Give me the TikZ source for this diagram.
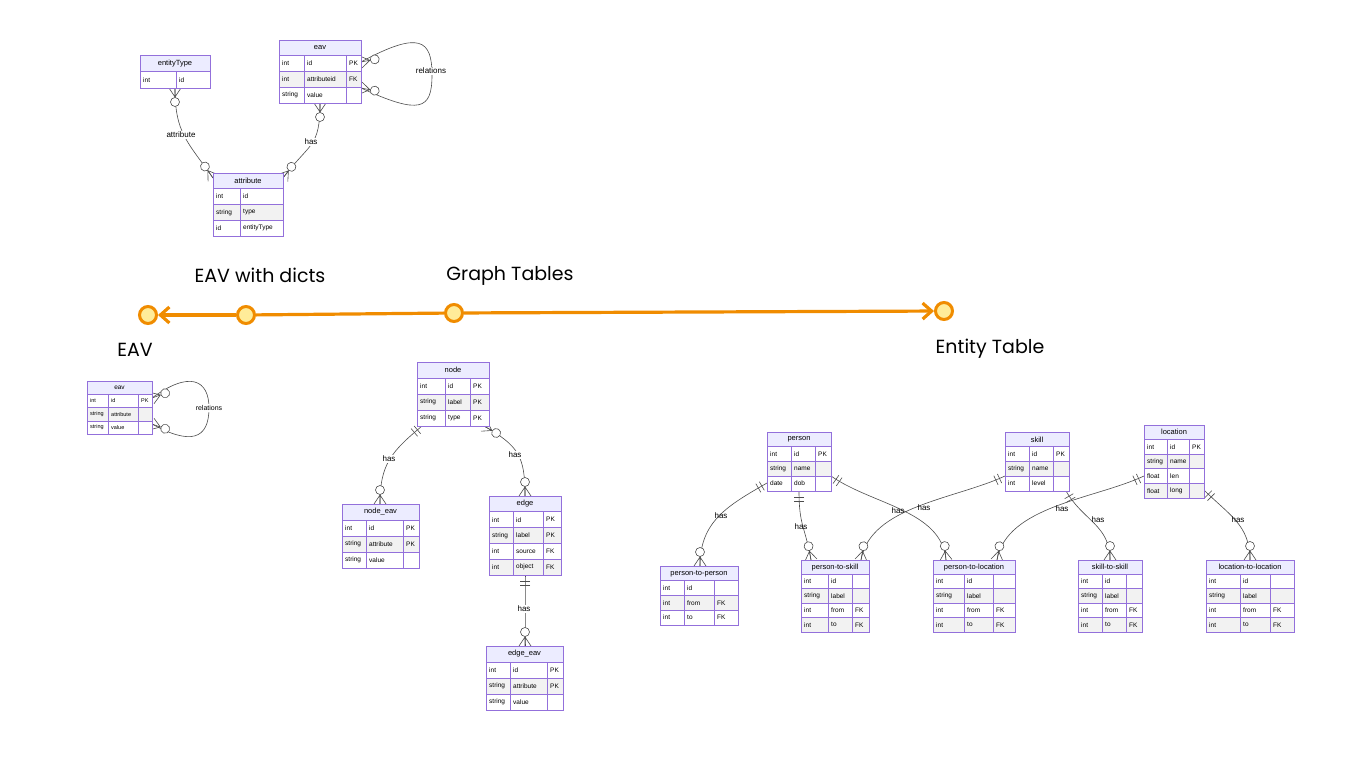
\documentclass[tikz,border=0pt]{standalone}
\usepackage{fontspec}
\setmainfont{Liberation Sans}
\newfontfamily\handfont{Poppins}
\usetikzlibrary{calc,arrows.meta}
\definecolor{erline}{HTML}{9370DB}
\definecolor{erhead}{HTML}{ECECFF}
\definecolor{errow}{HTML}{F2F2F2}
\definecolor{org}{HTML}{F08C00}
\definecolor{yel}{HTML}{FFEC99}
\tikzset{
 grid/.style={draw=erline,line width=0.8pt},
 cell/.style={anchor=west,inner sep=0pt,font=\fontsize{6.5}{7}\selectfont},
 hdr/.style={inner sep=0pt,font=\fontsize{7.5}{8}\selectfont},
 conn/.style={draw=black!70,line width=0.6pt},
 lbl/.style={inner sep=1pt,font=\fontsize{8}{9}\selectfont},
 hand/.style={font=\handfont\fontsize{19}{20}\selectfont},
 tl/.style={draw=org,line width=3.2pt},
 dot/.style={circle,draw=org,line width=3pt,fill=yel,minimum size=17pt,inner sep=0pt}
}
% #1 name #2 x0 #3 y0 #4 x1 #5 x2 #6 xr #7 rowh #8 title #9 rows
\newcommand\ertable[9]{%
 \fill[erhead] (#2,#3) rectangle (#6,{#3+#7});
 \draw[grid] (#2,#3) rectangle (#6,{#3+#7});
 \node[hdr] (#1) at ({(#2+#6)/2},{#3+#7/2}) {#8};
 \foreach \a/\b/\c [count=\i] in {#9}{%
  \pgfmathsetmacro\yt{#3+\i*#7}
  \ifodd\i\fill[white] (#2,\yt) rectangle (#6,{\yt+#7});\else\fill[errow] (#2,\yt) rectangle (#6,{\yt+#7});\fi
  \draw[grid] (#2,\yt) rectangle (#6,{\yt+#7}) (#4,\yt)--(#4,{\yt+#7}) (#5,\yt)--(#5,{\yt+#7});
  \node[cell] at ({#2+3},{\yt+#7/2}) {\a};
  \node[cell] at ({#4+3},{\yt+#7/2}) {\b};
  \node[cell] at ({#5+3},{\yt+#7/2}) {\c};
 }}
\newcommand\link[5]{\draw[conn] (#1) .. controls ($(#1)+(#2:#5)$) and ($(#3)+(#4:#5)$) .. (#3);}
\newcommand\mcrow[2]{\begin{scope}[shift={(#1)},rotate={-#2}]
 \draw[conn] (9,0)--(0,-6) (9,0)--(0,0) (9,0)--(0,6);
 \draw[conn,fill=white] (14,0) circle (4.5);\end{scope}}
\newcommand\mzero[2]{\begin{scope}[shift={(#1)},rotate={-#2}]
 \draw[conn,fill=white] (14,0) circle (4.5);\end{scope}}
\newcommand\mone[2]{\begin{scope}[shift={(#1)},rotate={-#2}]
 \draw[conn] (6,-5)--(6,5) (10,-5)--(10,5);\end{scope}}
\begin{document}
\begin{tikzpicture}[x=1pt,y=-1pt]
\useasboundingbox (0,0) rectangle (1358,757);
% ---------- top EAV model
\coordinate (a1) at (175,88); \coordinate (a2) at (213,178);
\coordinate (b1) at (320,103); \coordinate (b2) at (283,178);
\coordinate (r1) at (361,62); \coordinate (r2) at (361,88);
\link{a1}{90}{a2}{-125}{45}
\link{b1}{90}{b2}{-53}{45}
\draw[conn] (r1) .. controls (420,30) and (432,40) .. (432,75) .. controls (432,110) and (420,115) .. (r2);
\mcrow{a1}{90}\mcrow{a2}{-125}\mcrow{b1}{90}\mcrow{b2}{-53}\mcrow{r1}{-11}\mcrow{r2}{11}
\node[lbl,fill=white] (l1) at (181,135) {attribute};
\node[lbl,fill=white] (l2) at (311,142) {has};
\node[lbl,fill=white] (l3) at (431,71) {relations};
\ertable{entityType}{140}{55}{176}{210}{210}{16.5}{entityType}{int/id/}
\ertable{eavA}{279}{40}{304}{346}{361}{15.75}{eav}{int/id/PK,int/attributeid/FK,string/value/}
\ertable{attribute}{213}{173}{240}{283}{283}{15.75}{attribute}{int/id/,string/type/,id/entityType/}
% ---------- timeline
\node[dot] (t1) at (148,315) {};
\node[dot] (t2) at (246,315) {};
\node[dot] (t3) at (454,313) {};
\node[dot] (t4) at (944,311) {};
\draw[tl,-{Straight Barb[length=9pt,width=16pt]}] (t2) -- (t1);
\draw[tl] (t2) -- (t3);
\draw[tl,-{Straight Barb[length=9pt,width=16pt]}] (t3) -- (t4);
\node[hand] (h1) at (260,275) {EAV with dicts};
\node[hand] (h2) at (510,276) {Graph Tables};
\node[hand] (h3) at (135,350) {EAV};
\node[hand] (h4) at (990,349) {Entity Table};
% ---------- small eav
\coordinate (s1) at (152,398); \coordinate (s2) at (152,424);
\draw[conn] (s1) .. controls (190,370) and (209,380) .. (209,408) .. controls (209,440) and (190,445) .. (s2);
\mcrow{s1}{-20}\mcrow{s2}{20}
\node[lbl,fill=white,font=\fontsize{7}{8}\selectfont] (l4) at (209,408) {relations};
\begin{scope}[cell/.append style={font=\fontsize{5.5}{6}\selectfont},hdr/.append style={font=\fontsize{6.5}{7}\selectfont}]
\ertable{eavB}{87}{381}{108}{138}{152}{13.3}{eav}{int/id/PK,string/attribute/,string/value/}
\end{scope}
% ---------- graph tables
\coordinate (n1) at (422,426); \coordinate (n2) at (380,504);
\coordinate (n3) at (484,426); \coordinate (n4) at (525,496);
\coordinate (n5) at (525,575); \coordinate (n6) at (525,646);
\link{n1}{140}{n2}{-90}{40}
\link{n3}{30}{n4}{-90}{40}
\link{n5}{90}{n6}{-90}{20}
\mone{n1}{140}\mcrow{n2}{-90}\mcrow{n3}{30}\mcrow{n4}{-90}\mone{n5}{90}\mcrow{n6}{-90}
\node[lbl,fill=white] (l5) at (389,459) {has};
\node[lbl,fill=white] (l6) at (515,455) {has};
\node[lbl,fill=white] (l7) at (524,609) {has};
\ertable{node}{417}{362}{445}{470}{489}{16}{node}{int/id/PK,string/label/PK,string/type/PK}
\ertable{nodeeav}{342}{504}{366}{403}{419}{16}{node\_eav}{int/id/PK,string/attribute/PK,string/value/}
\ertable{edge}{489}{496}{513}{543}{561}{15.8}{edge}{int/id/PK,string/label/PK,int/source/FK,int/object/FK}
\ertable{edgeeav}{486}{646}{510}{547}{563}{16}{edge\_eav}{int/id/PK,string/attribute/PK,string/value/}
% ---------- entity tables
\coordinate (p1) at (767,483); \coordinate (p2) at (700,566);
\coordinate (p3) at (799,491); \coordinate (p4) at (811,560);
\coordinate (p5) at (831,476); \coordinate (p6) at (946,560);
\coordinate (k1) at (1005,476); \coordinate (k2) at (861,560);
\coordinate (k3) at (1066,491); \coordinate (k4) at (1110,560);
\coordinate (o1) at (1144,476); \coordinate (o2) at (997,560);
\coordinate (o3) at (1204,490); \coordinate (o4) at (1250,560);
\link{p1}{150}{p2}{-90}{45}
\link{p3}{90}{p4}{-100}{35}
\link{p5}{35}{p6}{-95}{50}
\link{k1}{155}{k2}{-80}{55}
\link{k3}{60}{k4}{-90}{35}
\link{o1}{155}{o2}{-80}{55}
\link{o3}{45}{o4}{-90}{35}
\mone{p1}{150}\mcrow{p2}{-90}\mone{p3}{90}\mcrow{p4}{-100}\mone{p5}{35}\mcrow{p6}{-95}
\mone{k1}{155}\mcrow{k2}{-80}\mone{k3}{60}\mcrow{k4}{-90}
\mone{o1}{155}\mcrow{o2}{-80}\mone{o3}{45}\mcrow{o4}{-90}
\node[lbl] (l8) at (721,516) {has};
\node[lbl] (l9) at (801,527) {has};
\node[lbl] (l10) at (898,511) {has};
\node[lbl] (l11) at (924,508) {has};
\node[lbl] (l12) at (1098,520) {has};
\node[lbl] (l13) at (1062,509) {has};
\node[lbl] (l14) at (1238,520) {has};
\ertable{person}{767}{432}{791}{815}{831}{14.75}{person}{int/id/PK,string/name/,date/dob/}
\ertable{skill}{1005}{432}{1029}{1053}{1069}{14.75}{skill}{int/id/PK,string/name/,int/level/}
\ertable{location}{1144}{425}{1167}{1189}{1204}{14.6}{location}{int/id/PK,string/name/,float/len/,float/long/}
\ertable{ptp}{660}{566}{684}{714}{738}{14.75}{person-to-person}{int/id/,int/from/FK,int/to/FK}
\ertable{pts}{801}{560}{828}{852}{869}{14.4}{person-to-skill}{int/id/,string/label/,int/from/FK,int/to/FK}
\ertable{ptl}{933}{560}{964}{993}{1015}{14.4}{person-to-location}{int/id/,string/label/,int/from/FK,int/to/FK}
\ertable{sts}{1078}{560}{1102}{1126}{1142}{14.4}{skill-to-skill}{int/id/,string/label/,int/from/FK,int/to/FK}
\ertable{ltl}{1206}{560}{1240}{1270}{1294}{14.4}{location-to-location}{int/id/,string/label/,int/from/FK,int/to/FK}
\end{tikzpicture}
\end{document}
